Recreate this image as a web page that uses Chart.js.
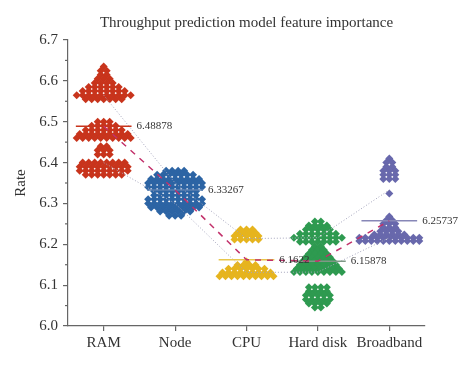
<!DOCTYPE html>
<html>
<head>
<meta charset="utf-8">
<script src="https://cdn.jsdelivr.net/npm/chart.js@4.4.1/dist/chart.umd.min.js"></script>
<style>
  html, body { margin: 0; padding: 0; background: #fff; }
</style>
</head>
<body>
<canvas id="chart" width="474" height="366"></canvas>
<script>
// categories and summary values
const categories = ['RAM', 'Node', 'CPU', 'Hard disk', 'Broadband'];
const means = [6.48878, 6.33267, 6.1622, 6.15878, 6.25737];
const meanLabels = ['6.48878', '6.33267', '6.1622', '6.15878', '6.25737'];
const yTicks = [6.0, 6.1, 6.2, 6.3, 6.4, 6.5, 6.6, 6.7];
const titleText = 'Throughput prediction model feature importance';

// each swarm: value levels and how many points sit at each level
const ramLevels = [6.635, 6.625, 6.615, 6.605, 6.595, 6.585, 6.575, 6.565, 6.555,
  6.50, 6.49, 6.48, 6.47, 6.46, 6.44, 6.43, 6.42, 6.40, 6.39, 6.38, 6.37];
const ramCounts = [1, 2, 2, 3, 4, 6, 8, 10, 7, 3, 5, 7, 9, 10, 2, 3, 3, 8, 9, 9, 7];

const nodeLevels = [6.38, 6.37, 6.36, 6.35, 6.34, 6.33, 6.32, 6.31, 6.30, 6.29, 6.28, 6.27];
const nodeCounts = [4, 7, 9, 10, 10, 8, 8, 10, 10, 9, 6, 3];

const cpuLevels = [6.236, 6.228, 6.220, 6.212, 6.158, 6.149, 6.140, 6.131, 6.122];
const cpuCounts = [3, 4, 5, 5, 1, 4, 7, 9, 10];

const diskLevels = [6.256, 6.246, 6.236, 6.226, 6.216, 6.206, 6.195, 6.186, 6.177, 6.168,
  6.159, 6.150, 6.141, 6.132, 6.095, 6.085, 6.075, 6.065, 6.055, 6.045];
const diskCounts = [2, 4, 5, 7, 9, 7, 2, 3, 4, 5, 6, 7, 8, 9, 4, 4, 5, 5, 4, 2];

const bandLevels = [6.41, 6.40, 6.39, 6.38, 6.37, 6.36, 6.324,
  6.268, 6.259, 6.250, 6.241, 6.232, 6.224, 6.216, 6.208];
const bandCounts = [1, 2, 2, 3, 3, 3, 1, 1, 2, 3, 3, 4, 6, 11, 11];

const colors = ['#c8341c', '#2c64a4', '#e6b41e', '#2e9a50', '#6868ac'];
const meanLineColors = ['#c8341c', '#5a7fb0', '#e8c64c', '#7f9886', '#8787b7'];

const xGap = 0.084;     // horizontal spacing of points in a row (category units)
const halfLine = 0.39;  // half length of the mean bars

function swarm(levels, counts, center) {
  const pts = [];
  levels.forEach((v, i) => {
    const n = counts[i];
    for (let k = 0; k < n; k++) {
      pts.push({ x: center + (k - (n - 1) / 2) * xGap, y: v });
    }
  });
  return pts;
}

function quantile(levels, counts, q) {
  const vals = [];
  levels.forEach((v, i) => { for (let k = 0; k < counts[i]; k++) vals.push(v); });
  vals.sort((a, b) => a - b);
  const pos = (vals.length - 1) * q;
  const lo = Math.floor(pos), hi = Math.ceil(pos);
  return vals[lo] + (vals[hi] - vals[lo]) * (pos - lo);
}

const groups = [
  [ramLevels, ramCounts], [nodeLevels, nodeCounts], [cpuLevels, cpuCounts],
  [diskLevels, diskCounts], [bandLevels, bandCounts]
];
const q1 = groups.map(g => quantile(g[0], g[1], 0.25));
const q3 = groups.map(g => quantile(g[0], g[1], 0.75));

const datasets = groups.map((g, i) => ({
  label: categories[i],
  data: swarm(g[0], g[1], i + 1),
  pointStyle: 'rectRot',
  pointRadius: 4,
  pointBorderWidth: 0,
  backgroundColor: colors[i],
  borderColor: colors[i]
}));

const FONT = "'Liberation Serif', 'DejaVu Serif', serif";
Chart.defaults.font.family = FONT;
Chart.defaults.color = '#333';

// mean bars, connecting lines and labels on top of the swarms
const overlay = {
  id: 'overlay',
  afterDatasetsDraw(chart) {
    const { ctx } = chart;
    const xs = chart.scales.x, ys = chart.scales.y;
    ctx.save();

    // dotted lines between neighbouring quartiles
    ctx.strokeStyle = '#a4a4bc';
    ctx.lineWidth = 1;
    ctx.setLineDash([1, 2]);
    [q1, q3].forEach(q => {
      ctx.beginPath();
      q.forEach((v, i) => {
        const px = xs.getPixelForValue(i + 1), py = ys.getPixelForValue(v);
        if (i === 0) ctx.moveTo(px, py); else ctx.lineTo(px, py);
      });
      ctx.stroke();
    });

    // mean bars
    ctx.setLineDash([]);
    ctx.lineWidth = 1.5;
    means.forEach((m, i) => {
      const py = ys.getPixelForValue(m);
      ctx.strokeStyle = meanLineColors[i];
      ctx.beginPath();
      ctx.moveTo(xs.getPixelForValue(i + 1 - halfLine), py);
      ctx.lineTo(xs.getPixelForValue(i + 1 + halfLine), py);
      ctx.stroke();
    });

    // dashed line through the means
    ctx.strokeStyle = '#c2306a';
    ctx.lineWidth = 1.5;
    ctx.setLineDash([6, 6]);
    ctx.beginPath();
    means.forEach((m, i) => {
      const px = xs.getPixelForValue(i + 1), py = ys.getPixelForValue(m);
      if (i === 0) ctx.moveTo(px, py); else ctx.lineTo(px, py);
    });
    ctx.stroke();

    // labels
    ctx.setLineDash([]);
    ctx.font = '11px ' + FONT;
    ctx.fillStyle = '#333';
    ctx.textAlign = 'left';
    ctx.textBaseline = 'middle';
    means.forEach((m, i) => {
      ctx.fillText(meanLabels[i], xs.getPixelForValue(i + 1 + halfLine) + 5, ys.getPixelForValue(m));
    });
    ctx.restore();
  },
  afterDraw(chart) {
    const { ctx, chartArea } = chart;
    const ys = chart.scales.y;
    ctx.save();
    // minor ticks halfway between labelled ones
    ctx.strokeStyle = '#666';
    ctx.lineWidth = 1.2;
    for (let i = 0; i < yTicks.length - 1; i++) {
      const py = ys.getPixelForValue((yTicks[i] + yTicks[i + 1]) / 2);
      ctx.beginPath();
      ctx.moveTo(chartArea.left - 3, py);
      ctx.lineTo(chartArea.left, py);
      ctx.stroke();
    }
    // title, centred over the plot area
    ctx.font = '15px ' + FONT;
    ctx.fillStyle = '#333';
    ctx.textAlign = 'center';
    ctx.textBaseline = 'middle';
    ctx.fillText(titleText, (chartArea.left + chartArea.right) / 2, 23);
    ctx.restore();
  }
};

new Chart(document.getElementById('chart').getContext('2d'), {
  type: 'scatter',
  data: { datasets },
  options: {
    responsive: false,
    animation: false,
    devicePixelRatio: 1,
    layout: { padding: { top: 40, right: 49, left: 0, bottom: 0 } },
    plugins: { legend: { display: false }, tooltip: { enabled: false } },
    scales: {
      x: {
        type: 'linear',
        min: 0.5,
        max: 5.5,
        afterBuildTicks: (scale) => { scale.ticks = categories.map((c, i) => ({ value: i + 1 })); },
        afterFit: (scale) => { scale.height = 40; },
        ticks: {
          callback: (v) => categories[v - 1],
          font: { size: 15 },
          color: '#333',
          padding: 3,
          maxRotation: 0,
          autoSkip: false
        },
        grid: { drawOnChartArea: false, tickLength: 5, color: '#666', lineWidth: 1.2 },
        border: { color: '#666', width: 1.2 }
      },
      y: {
        min: 6.0,
        max: 6.7,
        afterBuildTicks: (scale) => { scale.ticks = yTicks.map(v => ({ value: v })); },
        afterFit: (scale) => { scale.width = 68; },
        ticks: {
          callback: (v) => v.toFixed(1),
          font: { size: 15 },
          color: '#333',
          padding: 5
        },
        title: { display: true, text: 'Rate', font: { size: 15 }, color: '#333', padding: { top: 12, bottom: 0 } },
        grid: { drawOnChartArea: false, tickLength: 5, color: '#666', lineWidth: 1.2 },
        border: { color: '#666', width: 1.2 }
      }
    }
  },
  plugins: [overlay]
});
</script>
</body>
</html>
